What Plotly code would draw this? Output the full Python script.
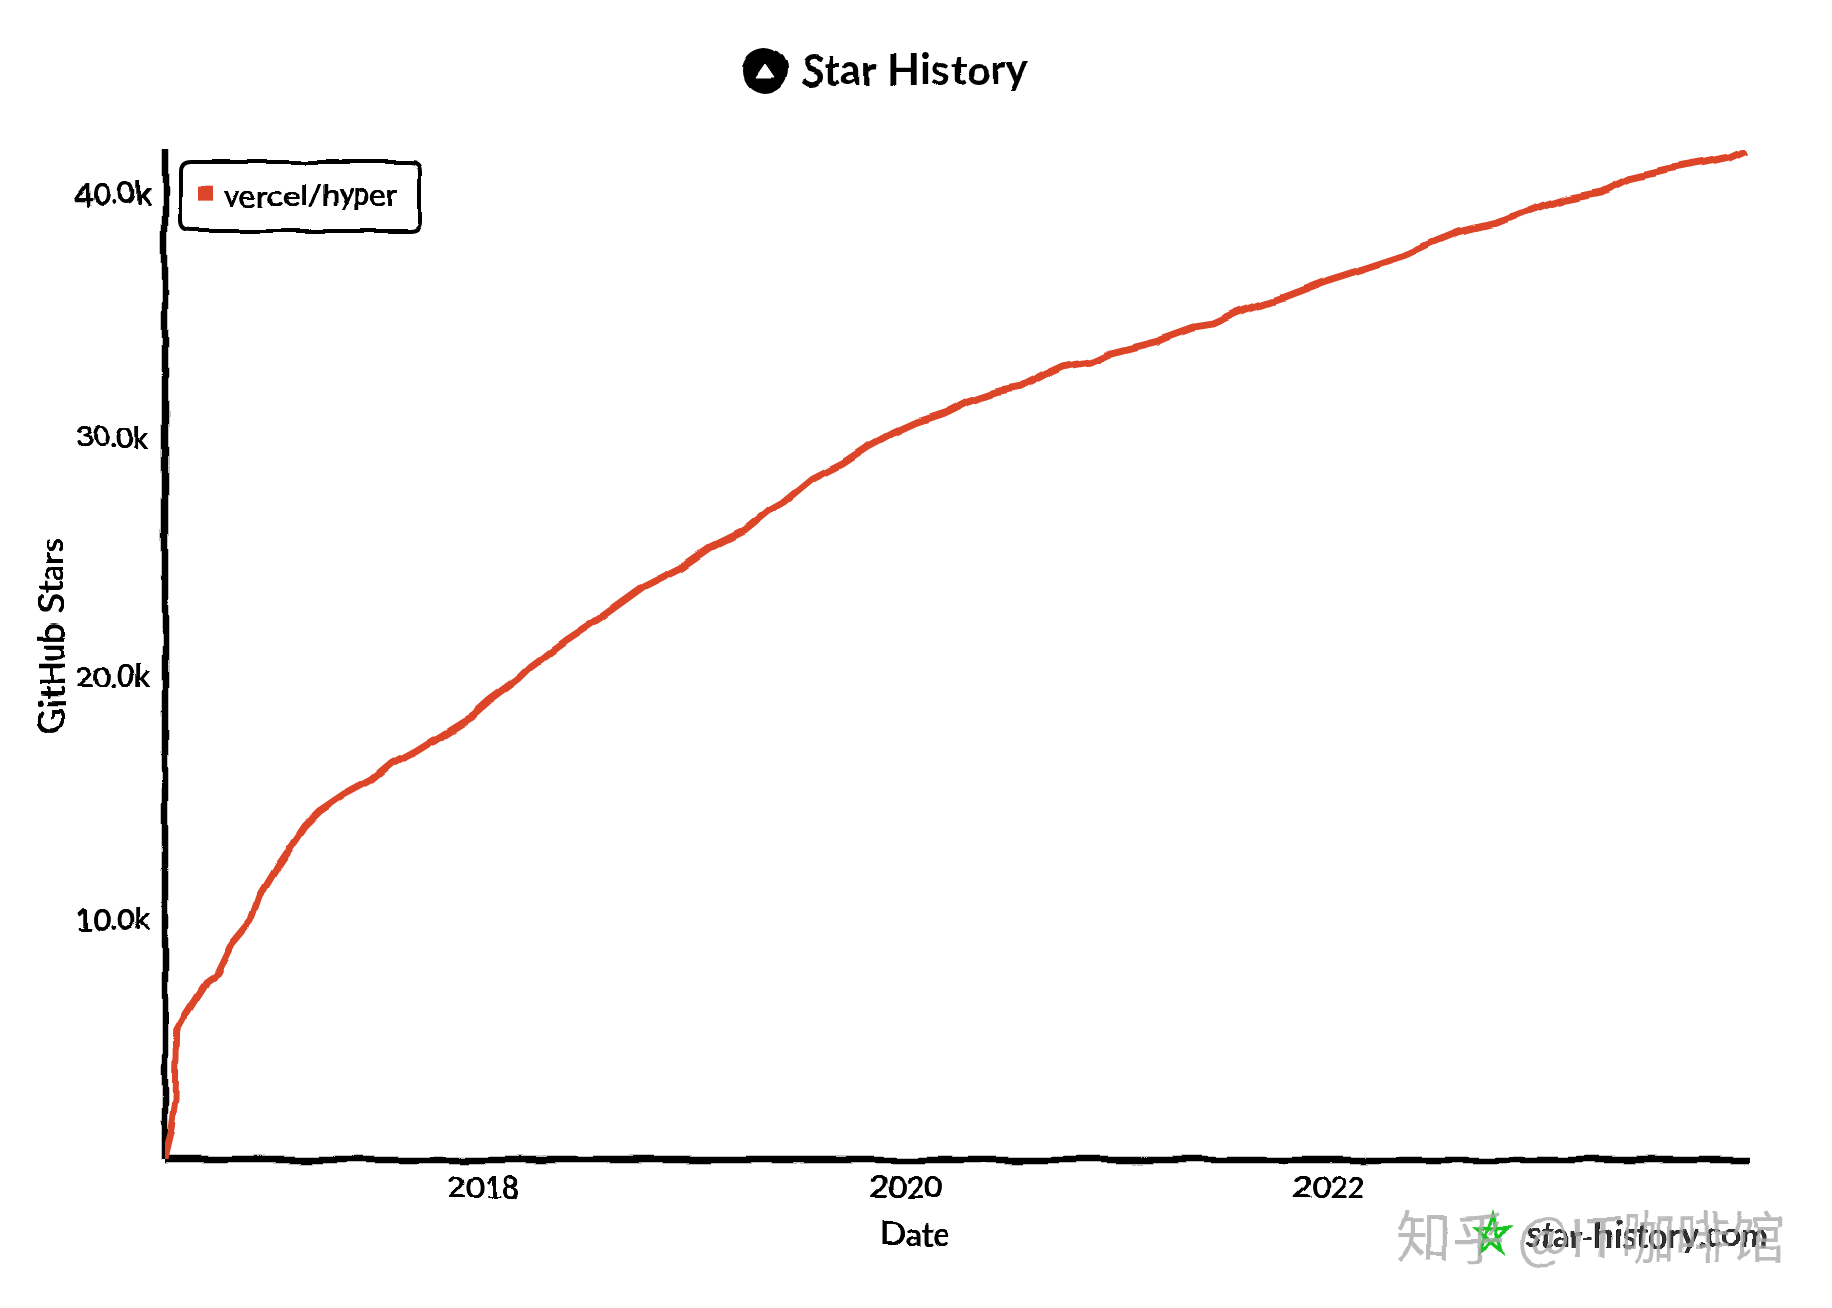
import plotly.graph_objects as go

years = [2016.49, 2016.523, 2016.542, 2016.546, 2016.55, 2016.594, 2016.689, 2016.741, 2016.812, 2016.902,
         2016.94, 2017.025, 2017.105, 2017.153, 2017.224, 2017.342, 2017.475, 2017.569, 2017.683, 2017.825,
         2017.948, 2018.028, 2018.17, 2018.232, 2018.393, 2018.549, 2018.653, 2018.753, 2018.942, 2019.07,
         2019.226, 2019.34, 2019.415, 2019.557, 2019.699, 2019.813, 2019.936, 2020.05, 2020.192, 2020.286,
         2020.443, 2020.537, 2020.646, 2020.741, 2020.869, 2020.963, 2021.186, 2021.356, 2021.451, 2021.565,
         2021.782, 2021.972, 2022.194, 2022.384, 2022.492, 2022.62, 2022.795, 2022.961, 2023.127, 2023.297,
         2023.425, 2023.6, 2023.789, 2023.898, 2023.979]
stars = [0, 1240, 2490, 3440, 5390, 6090, 7380, 7710, 8990, 9950,
         10900, 12140, 13260, 13800, 14420, 15130, 15750, 16450, 16990, 17740,
         18440, 19060, 19980, 20510, 21550, 22460, 23080, 23750, 24580, 25360,
         26030, 26850, 27230, 28260, 28890, 29550, 30130, 30580, 31000, 31410,
         31870, 32030, 32530, 32910, 33110, 33480, 33980, 34520, 34650, 35110,
         35760, 36390, 37010, 37550, 38000, 38460, 38830, 39410, 39870, 40160,
         40700, 41070, 41360, 41570, 41900]
repo_name = "vercel/hyper"
x_ticks = [2018, 2020, 2022]
y_ticks = [10000, 20000, 30000, 40000]
y_tick_labels = ["10.0k", "20.0k", "30.0k", "40.0k"]

W, H = 1832, 1308
LEFT, RIGHT, TOP, BOTTOM = 165, 1750, 148, 1160
FONT = "Lato"
RED = "#dd4528"
HEAVY = "0.5px 0 0 black, -0.5px 0 0 black, 0 0.4px 0 black"  # xkcd font strokes are thicker than Lato


# pixel position on the page -> paper coordinates
def px(x):
    return (x - LEFT) / (RIGHT - LEFT)


def py(y):
    return (BOTTOM - y) / (BOTTOM - TOP)


def path(points, close=True):
    d = "M" + " L".join(f"{px(a):.5f},{py(b):.5f}" for a, b in points)
    return d + (" Z" if close else "")


def rounded_box(x0, y0, x1, y1, r):
    q = lambda a, b, c, d: f"Q{px(a):.5f},{py(b):.5f} {px(c):.5f},{py(d):.5f} "
    return (f"M{px(x0 + r):.5f},{py(y0):.5f} L{px(x1 - r):.5f},{py(y0):.5f} " + q(x1, y0, x1, y0 + r)
            + f"L{px(x1):.5f},{py(y1 - r):.5f} " + q(x1, y1, x1 - r, y1)
            + f"L{px(x0 + r):.5f},{py(y1):.5f} " + q(x0, y1, x0, y1 - r)
            + f"L{px(x0):.5f},{py(y0 + r):.5f} " + q(x0, y0, x0 + r, y0) + "Z")


def label(text, x, y, size, color="black", family=FONT, shadow=HEAVY, **kw):
    return dict(text=text, x=px(x), y=py(y), xref="paper", yref="paper", xanchor="center", yanchor="middle",
                showarrow=False, font=dict(family=family, size=size, color=color, shadow=shadow), **kw)


fig = go.Figure()
fig.add_trace(go.Scatter(x=years, y=stars, mode="lines", showlegend=False, cliponaxis=False,
                         line=dict(color=RED, width=7)))
# legend swatch is a square in the original
fig.add_trace(go.Scatter(x=[None], y=[None], mode="markers", name=repo_name,
                         marker=dict(symbol="square", size=17, color=RED)))

shapes = [
    # axis lines, centred on the plot edge
    dict(type="line", xref="paper", yref="paper", x0=0, x1=0, y0=0, y1=1, line=dict(color="black", width=6.5), layer="below"),
    dict(type="line", xref="paper", yref="paper", x0=0, x1=1, y0=0, y1=0, line=dict(color="black", width=6.5), layer="below"),
    dict(type="path", xref="paper", yref="paper", path=rounded_box(180, 162, 421, 231, 10),
         line=dict(color="black", width=4), fillcolor="white", layer="below"),
    dict(type="circle", xref="paper", yref="paper", x0=px(741), x1=px(787), y0=py(93), y1=py(47),
         fillcolor="black", line=dict(width=0)),
    dict(type="path", xref="paper", yref="paper", path=path([(764, 64), (755, 77), (773, 77)]),
         fillcolor="white", line=dict(color="white", width=1)),
    dict(type="path", xref="paper", yref="paper",
         path=path([(1492, 1214), (1503, 1250), (1476, 1227), (1510, 1229), (1481, 1250)]),
         line=dict(color="#19c31f", width=3.5)),
]

annotations = [
    label("Date", 915, 1232, 33),
    label("GitHub Stars", 50, 635, 35, textangle=-90),
    label("star-history.com", 1647, 1233, 34, color="#333333"),
    label("知乎 @IT咖啡馆", 1591, 1233, 55, color="rgba(170,170,170,0.8)", family="Noto Sans CJK SC", shadow="none"),
]

fig.update_layout(
    width=W, height=H,
    margin=dict(l=LEFT, r=W - RIGHT, t=TOP, b=H - BOTTOM, pad=0),
    paper_bgcolor="white", plot_bgcolor="white",
    title=dict(text="Star History", x=915 / W, xanchor="center", y=1 - 71 / H, yanchor="middle",
               font=dict(family=FONT, size=43, color="black", weight=700)),
    legend=dict(x=px(186), xanchor="left", y=py(194), yanchor="middle", bgcolor="rgba(0,0,0,0)",
                font=dict(family=FONT, size=31, color="black", shadow=HEAVY), itemclick=False),
    shapes=shapes, annotations=annotations,
)
fig.update_xaxes(range=[2016.49, 2023.995], tickmode="array", tickvals=x_ticks, ticktext=[str(v) for v in x_ticks],
                 showgrid=False, zeroline=False, showline=False, ticks="",
                 tickfont=dict(family=FONT, size=31, color="black", shadow=HEAVY), ticklabelstandoff=6)
fig.update_yaxes(range=[0, 41940], tickmode="array", tickvals=y_ticks, ticktext=y_tick_labels,
                 showgrid=False, zeroline=False, showline=False, ticks="",
                 tickfont=dict(family=FONT, size=30, color="black", shadow=HEAVY), ticklabelstandoff=14)

# hand drawn look: same displacement filter idea as chart.xkcd
post = """
document.body.style.margin = '0';
var holder = document.createElement('div');
holder.innerHTML = '<svg width="0" height="0" style="position:absolute"><defs>' +
  '<filter id="xkcdify" x="0" y="0" width="100%" height="100%" color-interpolation-filters="sRGB">' +
  '<feTurbulence type="fractalNoise" baseFrequency="0.018" numOctaves="2" seed="4" result="noise"/>' +
  '<feDisplacementMap scale="9" xChannelSelector="R" yChannelSelector="G" in="SourceGraphic" in2="noise"/>' +
  '</filter></defs></svg>';
document.body.appendChild(holder);
document.getElementById('{plot_id}').style.filter = 'url(#xkcdify)';
"""

fig.write_html("out.html", post_script=post, config=dict(displayModeBar=False))
